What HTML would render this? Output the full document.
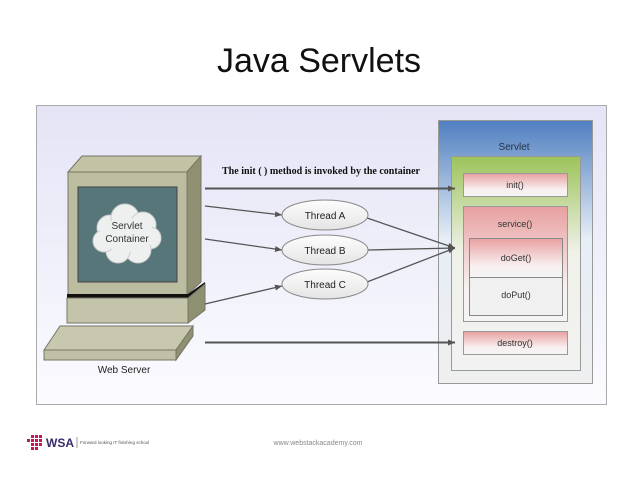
<!DOCTYPE html>
<html><head><meta charset="utf-8"><style>
body{margin:0;width:638px;height:478px;background:#fff;overflow:hidden;font-family:"Liberation Sans",sans-serif}
</style></head><body>
<svg width="638" height="478" viewBox="0 0 638 478" xmlns="http://www.w3.org/2000/svg">
<defs>
<linearGradient id="bg" x1="0" y1="0" x2="0" y2="1"><stop offset="0" stop-color="#e4e4f6"/><stop offset="1" stop-color="#fbfbff"/></linearGradient>
<linearGradient id="blue" x1="0" y1="0" x2="0" y2="1"><stop offset="0" stop-color="#4f7fc0"/><stop offset="0.45" stop-color="#e6eef6"/><stop offset="1" stop-color="#efefef"/></linearGradient>
<linearGradient id="green" x1="0" y1="0" x2="0" y2="1"><stop offset="0" stop-color="#9cc35a"/><stop offset="0.45" stop-color="#f0f2ea"/><stop offset="1" stop-color="#f2f2f2"/></linearGradient>
<linearGradient id="red" x1="0" y1="0" x2="0" y2="1"><stop offset="0" stop-color="#e8a0a0"/><stop offset="0.7" stop-color="#f8f0f0"/><stop offset="1" stop-color="#f4f4f4"/></linearGradient>
<linearGradient id="ell" x1="0" y1="0" x2="0" y2="1"><stop offset="0" stop-color="#fdfdfd"/><stop offset="1" stop-color="#e4e4e4"/></linearGradient>
<marker id="a" markerWidth="8" markerHeight="8" refX="7" refY="4" orient="auto" markerUnits="userSpaceOnUse"><path d="M0,1 L7,4 L0,7z" fill="#555"/></marker>
</defs>
<text x="319" y="72" font-size="34" text-anchor="middle" fill="#111">Java Servlets</text>
<rect x="36.5" y="105.5" width="570" height="299" fill="url(#bg)" stroke="#aaa"/>
<!-- monitor -->
<polygon points="68,172 82,156 201,156 187,172" fill="#c2c2a4" stroke="#777766"/>
<polygon points="187,172 201,156 201,282 187,295" fill="#8f8f72" stroke="#777766"/>
<rect x="68" y="172" width="119" height="123" fill="#bcbca0" stroke="#777766"/>
<rect x="78" y="187" width="99" height="95" fill="#56767a" stroke="#444"/>
<g fill="#eef0f0" stroke="#ccc">
<circle cx="110" cy="228" r="13"/><circle cx="125" cy="218" r="14"/><circle cx="143" cy="225" r="13"/><circle cx="150" cy="238" r="11"/><circle cx="138" cy="250" r="13"/><circle cx="118" cy="251" r="12"/><circle cx="104" cy="241" r="11"/><ellipse cx="127" cy="235" rx="28" ry="17" stroke="none"/>
</g>
<text x="127" y="229" font-size="10" text-anchor="middle" fill="#333">Servlet</text>
<text x="127" y="242" font-size="10" text-anchor="middle" fill="#333">Container</text>
<polygon points="67,294 188,294 205,282 205,284 188,298 67,298" fill="#111"/>
<rect x="67" y="298" width="121" height="25" fill="#c4c4aa" stroke="#777766"/>
<polygon points="188,298 205,284 205,310 188,323" fill="#8f8f72" stroke="#777766"/>
<polygon points="44,350 60,326 193,326 176,350" fill="#c8c8ae" stroke="#777766"/>
<rect x="44" y="350" width="132" height="10" fill="#c0c0a6" stroke="#777766"/>
<polygon points="176,350 193,326 193,336 176,360" fill="#8f8f72" stroke="#777766"/>
<text x="124" y="373" font-size="10" text-anchor="middle" fill="#222">Web Server</text>
<!-- servlet -->
<rect x="438.5" y="120.5" width="154" height="263" fill="url(#blue)" stroke="#999"/>
<text x="514" y="150" font-size="10" text-anchor="middle" fill="#234">Servlet</text>
<rect x="451.5" y="156.5" width="129" height="214" fill="url(#green)" stroke="#999"/>
<rect x="463.5" y="173.5" width="104" height="23" fill="url(#red)" stroke="#999"/>
<text x="515" y="188" font-size="9" text-anchor="middle" fill="#333">init()</text>
<rect x="463.5" y="206.5" width="104" height="115" fill="url(#red)" stroke="#999"/>
<text x="515" y="227" font-size="9" text-anchor="middle" fill="#333">service()</text>
<rect x="469.5" y="238.5" width="93" height="39" fill="url(#red)" stroke="#888"/>
<text x="516" y="261" font-size="9" text-anchor="middle" fill="#333">doGet()</text>
<rect x="469.5" y="277.5" width="93" height="38" fill="#f0f0f0" stroke="#888"/>
<text x="516" y="298" font-size="9" text-anchor="middle" fill="#333">doPut()</text>
<rect x="463.5" y="331.5" width="104" height="23" fill="url(#red)" stroke="#999"/>
<text x="515" y="346" font-size="9" text-anchor="middle" fill="#333">destroy()</text>
<!-- connectors -->
<text x="222" y="174" font-size="11" font-weight="bold" font-family="Liberation Serif,serif" fill="#111" textLength="198" lengthAdjust="spacingAndGlyphs">The init ( ) method is invoked by the container</text>
<g stroke="#555" stroke-width="1.3" fill="none">
<line x1="205" y1="188.5" x2="455" y2="188.5" stroke-width="2" marker-end="url(#a)"/>
<line x1="205" y1="342.5" x2="455" y2="342.5" stroke-width="2" marker-end="url(#a)"/>
<line x1="205" y1="206" x2="282" y2="215" marker-end="url(#a)"/>
<line x1="205" y1="239" x2="282" y2="250" marker-end="url(#a)"/>
<line x1="205" y1="304" x2="282" y2="286" marker-end="url(#a)"/>
<line x1="367" y1="218" x2="455" y2="248" marker-end="url(#a)"/>
<line x1="368" y1="250" x2="455" y2="248" marker-end="url(#a)"/>
<line x1="367" y1="282" x2="455" y2="248" marker-end="url(#a)"/>
</g>
<g fill="url(#ell)" stroke="#888">
<ellipse cx="325" cy="215" rx="43" ry="15"/><ellipse cx="325" cy="250" rx="43" ry="15"/><ellipse cx="325" cy="284" rx="43" ry="15"/>
</g>
<g font-size="10" text-anchor="middle" fill="#222">
<text x="325" y="219">Thread A</text><text x="325" y="254">Thread B</text><text x="325" y="288">Thread C</text>
</g>
<!-- footer -->
<g fill="#c2185b">
<rect x="31" y="435" width="3" height="3"/><rect x="35" y="435" width="3" height="3"/><rect x="39" y="435" width="3" height="3"/>
<rect x="27" y="439" width="3" height="3"/><rect x="31" y="439" width="3" height="3"/><rect x="35" y="439" width="3" height="3"/><rect x="39" y="439" width="3" height="3"/>
<rect x="31" y="443" width="3" height="3"/><rect x="35" y="443" width="3" height="3"/><rect x="39" y="443" width="3" height="3"/>
<rect x="31" y="447" width="3" height="3"/><rect x="35" y="447" width="3" height="3"/>
</g>
<text x="46" y="447" font-size="12" font-weight="bold" fill="#3a2a6a">WSA</text>
<line x1="77" y1="437" x2="77" y2="448" stroke="#999"/>
<text x="80" y="444" font-size="4.5" fill="#555">Forward looking IT finishing school</text>
<text x="318" y="445" font-size="7" text-anchor="middle" fill="#888">www.webstackacademy.com</text>
</svg>
</body></html>
